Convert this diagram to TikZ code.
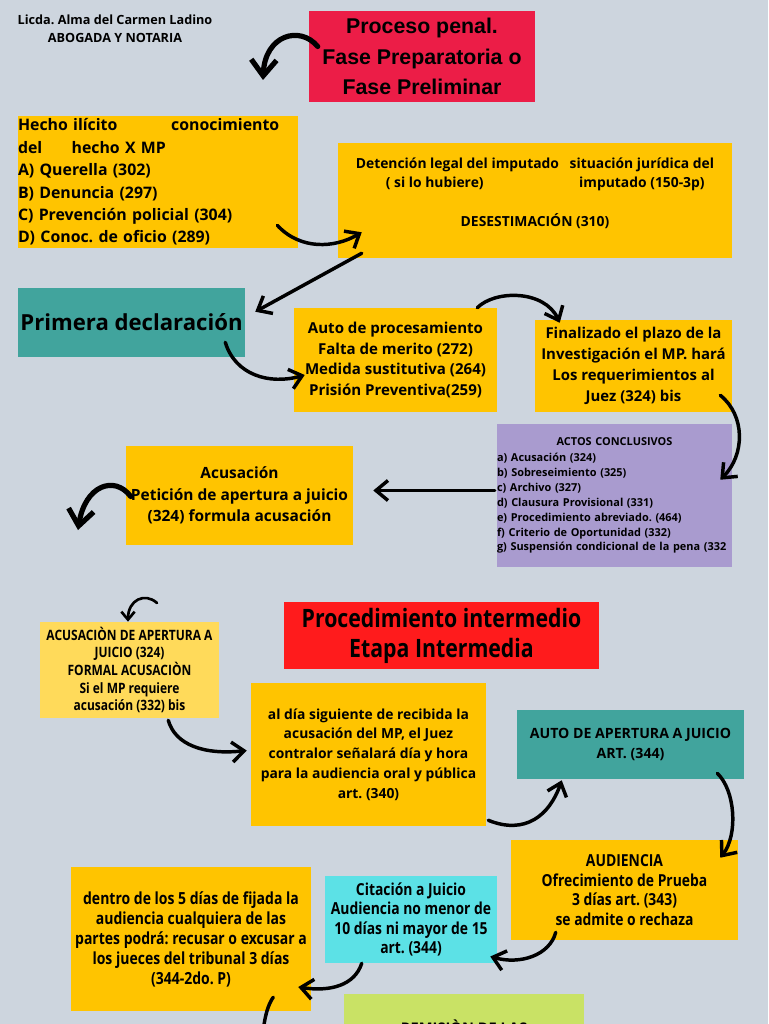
\documentclass[tikz,border=0pt]{standalone}
\usepackage{fontspec}
\setmainfont{Open Sans}
\newfontfamily\arialfont{Liberation Sans}
\newfontfamily\condfont[FakeStretch=0.84]{Open Sans}
\usepackage{tikz}
\usetikzlibrary{calc, arrows.meta}
\frenchspacing
\definecolor{bgblue}{HTML}{CDD5DE}
\definecolor{amber}{HTML}{FFC400}
\definecolor{ttlred}{HTML}{EC1D47}
\definecolor{ttlredB}{HTML}{FF1B1C}
\definecolor{tealbox}{HTML}{41A49D}
\definecolor{lilac}{HTML}{A99BCF}
\definecolor{paleamber}{HTML}{FFDA5A}
\definecolor{cyanbox}{HTML}{5CE1E6}
\definecolor{lime}{HTML}{C9E265}
\def\Wth{2.6pt}
\def\Wbig{3.9pt}
\newcommand{\SetFs}[2]{\fontsize{#1}{#2}\selectfont\bfseries}
\tikzset{
    card/.style={fill=#1, inner sep=0pt, align=center, text=black},
    px box/.style 2 args={minimum width=#1*0.75pt, minimum height=#2*0.75pt},
    brush/.style={
        draw=black, line width=\Wth, line cap=round,
        -{Straight Barb[length=9pt,width=15pt]}
    },
    big brush/.style={brush, line width=\Wbig, -{Straight Barb[length=12pt,width=19pt]}},
    small brush/.style={brush, line width=2pt, -{Straight Barb[length=6pt,width=10pt]}}
}

\begin{document}
\begin{tikzpicture}[x=0.75pt, y=-0.75pt]
    \useasboundingbox (0,0) rectangle (768,1024);
    \fill[bgblue] (0,0) rectangle (768,1024);
    \clip (0,0) rectangle (768,1024);

    % Fase preparatoria
    \node[font=\SetFs{9.5}{13.5}, align=center, inner sep=0pt] (autora) at (115,29)
        {Licda. Alma del Carmen Ladino\\ABOGADA Y NOTARIA};
    \node[card=ttlred, px box={226}{91}, font=\arialfont\SetFs{16}{23}] (titA) at (422,56.5)
        {Proceso penal.\\Fase Preparatoria o\\Fase Preliminar};
    \node[card=amber, px box={280}{132}, text width=210pt, align=left, font=\SetFs{11.9}{16.8}] (hecho) at (158,182)
        {\makebox[196pt][l]{Hecho ilícito\hfill conocimiento}\\del\hspace{22pt}hecho X MP\\A) Querella (302)\\B) Denuncia (297)\\C) Prevención policial (304)\\D) Conoc. de oficio (289)};
    \node[card=amber, px box={394}{115}, font=\SetFs{10.4}{14.25}] (det) at (535,200.5)
        {\begin{tabular}{@{}c@{\hspace{8pt}}c@{}}Detención legal del imputado & situación jurídica del\\( si lo hubiere)\hspace{34pt} & imputado (150-3p)\end{tabular}\\[14pt]DESESTIMACIÓN (310)\\~};
    \node[card=tealbox, px box={227}{69}, font=\SetFs{16.6}{18}] (prim) at (131.5,322.5)
        {Primera declaración};
    \node[card=amber, px box={203}{104}, font=\SetFs{11.3}{15.5}] (auto) at (395.5,360)
        {Auto de procesamiento\\Falta de merito (272)\\Medida sustitutiva (264)\\Prisión Preventiva(259)};
    \node[card=amber, px box={197}{92}, font=\SetFs{11.2}{15.8}] (fin) at (633.5,366)
        {Finalizado el plazo de la\\Investigación el MP. hará\\Los requerimientos al\\Juez (324) bis};
    \node[card=lilac, px box={235}{143}, text width=176.25pt, align=left, font=\SetFs{8.2}{11.2}] (actos) at (614.5,495.5)
        {\makebox[176.25pt]{ACTOS CONCLUSIVOS}\\[0.8pt]a) Acusación (324)\\b) Sobreseimiento (325)\\c) Archivo (327)\\d) Clausura Provisional (331)\\e) Procedimiento abreviado. (464)\\f) Criterio de Oportunidad (332)\\g) Suspensión condicional de la pena (332};
    \node[card=amber, px box={227}{99}, font=\SetFs{11.6}{16}] (acus) at (239.5,495.5)
        {Acusación\\Petición de apertura a juicio\\(324) formula acusación};

    % Etapa intermedia
    \node[card=paleamber, px box={179}{96}, font=\condfont\SetFs{10.7}{13.3}] (formal) at (129.5,670)
        {ACUSACIÒN DE APERTURA A\\JUICIO (324)\\FORMAL ACUSACIÒN\\Si el MP requiere\\acusación (332) bis};
    \node[card=ttlredB, px box={315}{67}, font=\condfont\SetFs{19}{22.5}] (titB) at (441.5,635.5)
        {Procedimiento intermedio\\Etapa Intermedia};
    \node[card=amber, px box={235}{143}, font=\SetFs{10.4}{14.8}] (aldia) at (368.5,754.5)
        {al día siguiente de recibida la\\acusación del MP, el Juez\\contralor señalará día y hora\\para la audiencia oral y pública\\art. (340)};
    \node[card=tealbox, px box={227}{69}, font=\SetFs{10.6}{14.3}] (autoap) at (630.5,744.5)
        {AUTO DE APERTURA A JUICIO\\ART. (344)};
    \node[card=amber, px box={227}{100}, font=\condfont\SetFs{12.4}{14.6}] (aud) at (624.5,890)
        {AUDIENCIA\\Ofrecimiento de Prueba\\3 días art. (343)\\se admite o rechaza};
    \node[card=cyanbox, px box={172}{87}, font=\condfont\SetFs{12.4}{14.6}] (cit) at (411,919.5)
        {Citación a Juicio\\Audiencia no menor de\\10 días ni mayor de 15\\art. (344)};
    \node[card=amber, px box={240}{144}, font=\condfont\SetFs{12.5}{15}] (dentro) at (191,939)
        {dentro de los 5 días de fijada la\\audiencia cualquiera de las\\partes podrá: recusar o excusar a\\los jueces del tribunal 3 días\\(344-2do. P)};
    \node[card=lime, px box={240}{66}, font=\SetFs{11}{14}] (remis) at (464,1027)
        {REMISIÒN DE LAS};

    % puntas libres
    \coordinate (tipA) at (263,80);
    \coordinate (tipB) at (78,530);
    \coordinate (tailC) at (157,603);
    \coordinate (tipD) at (262,1060);

    % flechas
    \draw[big brush] ($(titA.west)+(9,-10)$) .. controls +(-18,-21.5) and +(2,-45) .. (tipA);
    \draw[brush] ($(hecho.south east)+(-21,-23)$) .. controls +(23,25) and +(-27,16) .. ($(det.south west)+(24,-26)$);
    \draw[brush] ($(det.south west)+(24,-5)$) -- ($(prim.north east)+(10,24)$);
    \draw[brush] ($(prim.south east)+(-20,-15)$) .. controls +(10,33) and +(-35,10) .. ($(auto.west)+(11,15)$);
    \draw[brush] ($(auto.north east)+(-20,0)$) .. controls +(18,-18) and +(-15,-33) .. ($(fin.north west)+(25,3)$);
    \draw[brush] ($(fin.south east)+(-12,-17)$) .. controls +(25,20) and +(25,-25) .. ($(actos.north east)+(-12,56)$);
    \draw[brush] ($(actos.west)+(-2,-5)$) -- ($(acus.east)+(20,-5)$);
    \draw[big brush] ($(acus.west)+(5,1)$) .. controls +(-16,-21.5) and +(7,-45) .. (tipB);
    \draw[small brush] (tailC) .. controls +(-12,-11) and +(0,-22) .. ($(formal.north)+(-1.5,0)$);
    \draw[brush] ($(formal.south east)+(-51,2)$) .. controls +(7,25) and +(-42,4.5) .. ($(aldia.west)+(-4,-4)$);
    \draw[brush] ($(aldia.south east)+(2,-6)$) .. controls +(37,15) and +(-12,35) .. ($(autoap.south west)+(45,1)$);
    \draw[brush] ($(autoap.south east)+(-27,-6)$) .. controls +(18,17) and +(18,-23) .. ($(aud.north east)+(-18,18)$);
    \draw[brush] ($(aud.south west)+(45,-8)$) .. controls +(-6,23) and +(30,8.5) .. ($(cit.east)+(-7,37)$);
    \draw[brush] ($(cit.south west)+(37,0)$) .. controls +(-7,22) and +(32,5) .. ($(dentro.east)+(-13,48)$);
    \draw[brush] ($(dentro.south east)+(-38,-14)$) .. controls +(-8,11) and +(0,-30) .. (tipD);
\end{tikzpicture}
\end{document}
